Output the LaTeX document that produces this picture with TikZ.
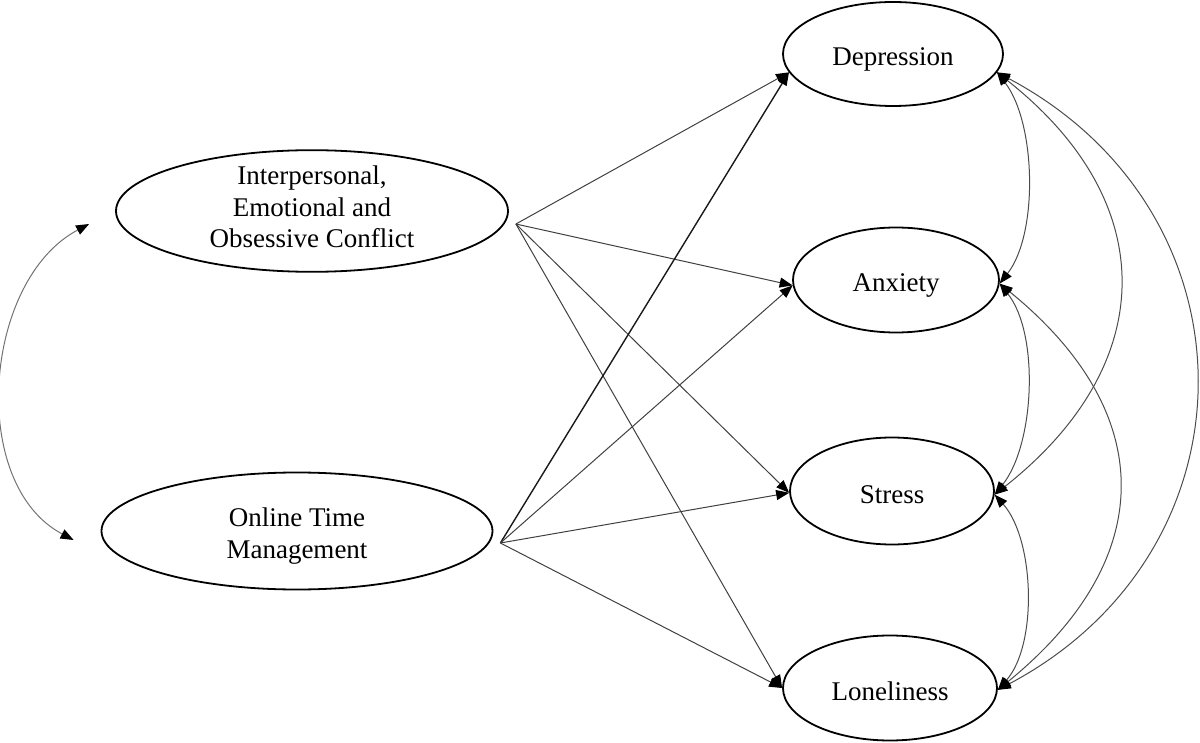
\documentclass[tikz,border=0pt]{standalone}
\usepackage{fontspec}
\setmainfont{Liberation Serif}
\usetikzlibrary{arrows.meta,shapes.geometric,calc}
\begin{document}
\begin{tikzpicture}[x=1pt,y=-1pt,
  latent/.style={draw, line width=1.8pt, ellipse, inner sep=0pt, align=center,
    font=\fontsize{27}{31.5}\selectfont},
  oneline/.style={text height=24pt, text depth=0pt},
  pathar/.style={line width=1pt, black!75, -{Triangle[length=13pt,width=10pt,color=black]}},
  covar/.style={line width=1pt, black!70,
    {Triangle[length=13pt,width=10pt,color=black]}-{Triangle[length=13pt,width=10pt,color=black]}}]
\useasboundingbox (0,0) rectangle (1200,743);

\node[latent, minimum width=392pt, minimum height=120pt, text height=80pt, text depth=6pt] (ieoc) at (312,211)
  {Interpersonal,\\Emotional and\\Obsessive Conflict};
\node[latent, minimum width=391pt, minimum height=117pt, text height=54pt, text depth=0pt] (otm) at (297,531)
  {Online Time\\Management};
\node[latent, oneline, minimum width=220pt, minimum height=104pt] (dep) at (893,54) {Depression};
\node[latent, oneline, minimum width=206pt, minimum height=105pt] (anx) at (896,280) {Anxiety};
\node[latent, oneline, minimum width=204pt, minimum height=107pt] (str) at (892,491) {Stress};
\node[latent, oneline, minimum width=214pt, minimum height=105pt] (lon) at (890,688) {Loneliness};

\coordinate (ieocR) at ($(ieoc.east)+(7,13)$);
\coordinate (otmR) at ($(otm.east)+(7,12)$);
\coordinate (ieocL) at ($(ieoc.west)+(-26,13)$);
\coordinate (otmL) at ($(otm.west)+(-27,9)$);

\draw[pathar] (ieocR) -- (dep.190);
\draw[pathar] (ieocR) -- (anx.183);
\draw[pathar] (ieocR) -- (str.181);
\draw[pathar] (ieocR) -- (lon.180);
\draw[pathar, line width=1.4pt, black!90] (otmR) -- (dep.190);
\draw[pathar] (otmR) -- (anx.183);
\draw[pathar] (otmR) -- (str.181);
\draw[pathar] (otmR) -- (lon.180);

\draw[covar, black!55] (ieocL) .. controls +(-106,56) and +(-106,-56) .. (otmL);

\draw[covar] (dep.-10) .. controls +(39,50) and +(39,-50) .. (anx.-2);
\draw[covar] (dep.-10) .. controls +(165,130) and +(165,-130) .. (str.-2);
\draw[covar] (dep.-10) .. controls +(264,140) and +(264,-140) .. (lon.-1);
\draw[covar] (anx.-2) .. controls +(40,50) and +(40,-50) .. (str.-2);
\draw[covar] (anx.-2) .. controls +(160,130) and +(160,-130) .. (lon.-1);
\draw[covar] (str.-2) .. controls +(40,45) and +(40,-45) .. (lon.-1);
\end{tikzpicture}
\end{document}
